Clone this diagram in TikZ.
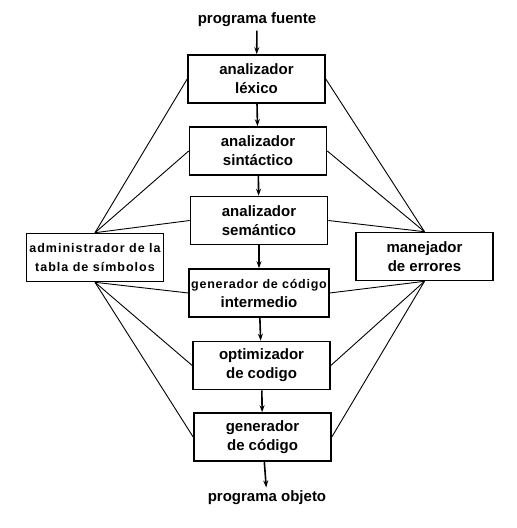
\documentclass[tikz,border=0pt]{standalone}
\usepackage{fontspec}
\setmainfont{Liberation Sans}
\usetikzlibrary{arrows.meta}
\begin{document}
\begin{tikzpicture}[x=1pt,y=-1pt,
  box/.style={draw,line width=1.6pt,minimum width=137pt,minimum height=48pt,inner sep=2pt,align=center,font=\fontsize{15}{19}\selectfont\bfseries},
  sidebox/.style={box,font=\fontsize{12.5}{19}\selectfont\bfseries\addfontfeatures{LetterSpace=8}},
  flow/.style={line width=1.6pt,-{Stealth[length=7pt,width=5pt]}},
  link/.style={line width=0.9pt},
  lbl/.style={font=\fontsize{15}{19}\selectfont\bfseries}]
\useasboundingbox (0,0) rectangle (517,528);
\node[lbl] (src) at (257,20) {programa fuente};
\node[box] (lex) at (256.5,79) {analizador\\léxico};
\node[box] (sin) at (258,151) {analizador\\sintáctico};
\node[box] (sem) at (259,220.5) {analizador\\semántico};
\node[box] (int) at (259,293) {{\fontsize{12.5}{15}\selectfont\addfontfeatures{LetterSpace=6}generador de código}\\intermedio};
\node[box] (opt) at (261.5,365.5) {optimizador\\de codigo};
\node[box] (gen) at (262.5,437) {generador\\de código};
\node[sidebox] (adm) at (95,257.5) {administrador de la\\tabla de símbolos};
\node[box] (man) at (424.5,256.5) {manejador\\de errores};
\node[lbl] (obj) at (267,498) {programa objeto};
\draw[flow] (src) -- (lex);
\draw[flow] (lex) -- (sin);
\draw[flow] (sin) -- (sem);
\draw[flow] (sem) -- (int);
\draw[flow] (int) -- (opt);
\draw[flow] (opt) -- (gen);
\draw[flow] (gen) -- (obj);
\foreach \n in {lex,sin,sem} {
  \draw[link] (adm.north) -- (\n.west);
  \draw[link] (man.north) -- (\n.east);
}
\foreach \n in {int,opt,gen} {
  \draw[link] (adm.south) -- (\n.west);
  \draw[link] (man.south) -- (\n.east);
}
\end{tikzpicture}
\end{document}
